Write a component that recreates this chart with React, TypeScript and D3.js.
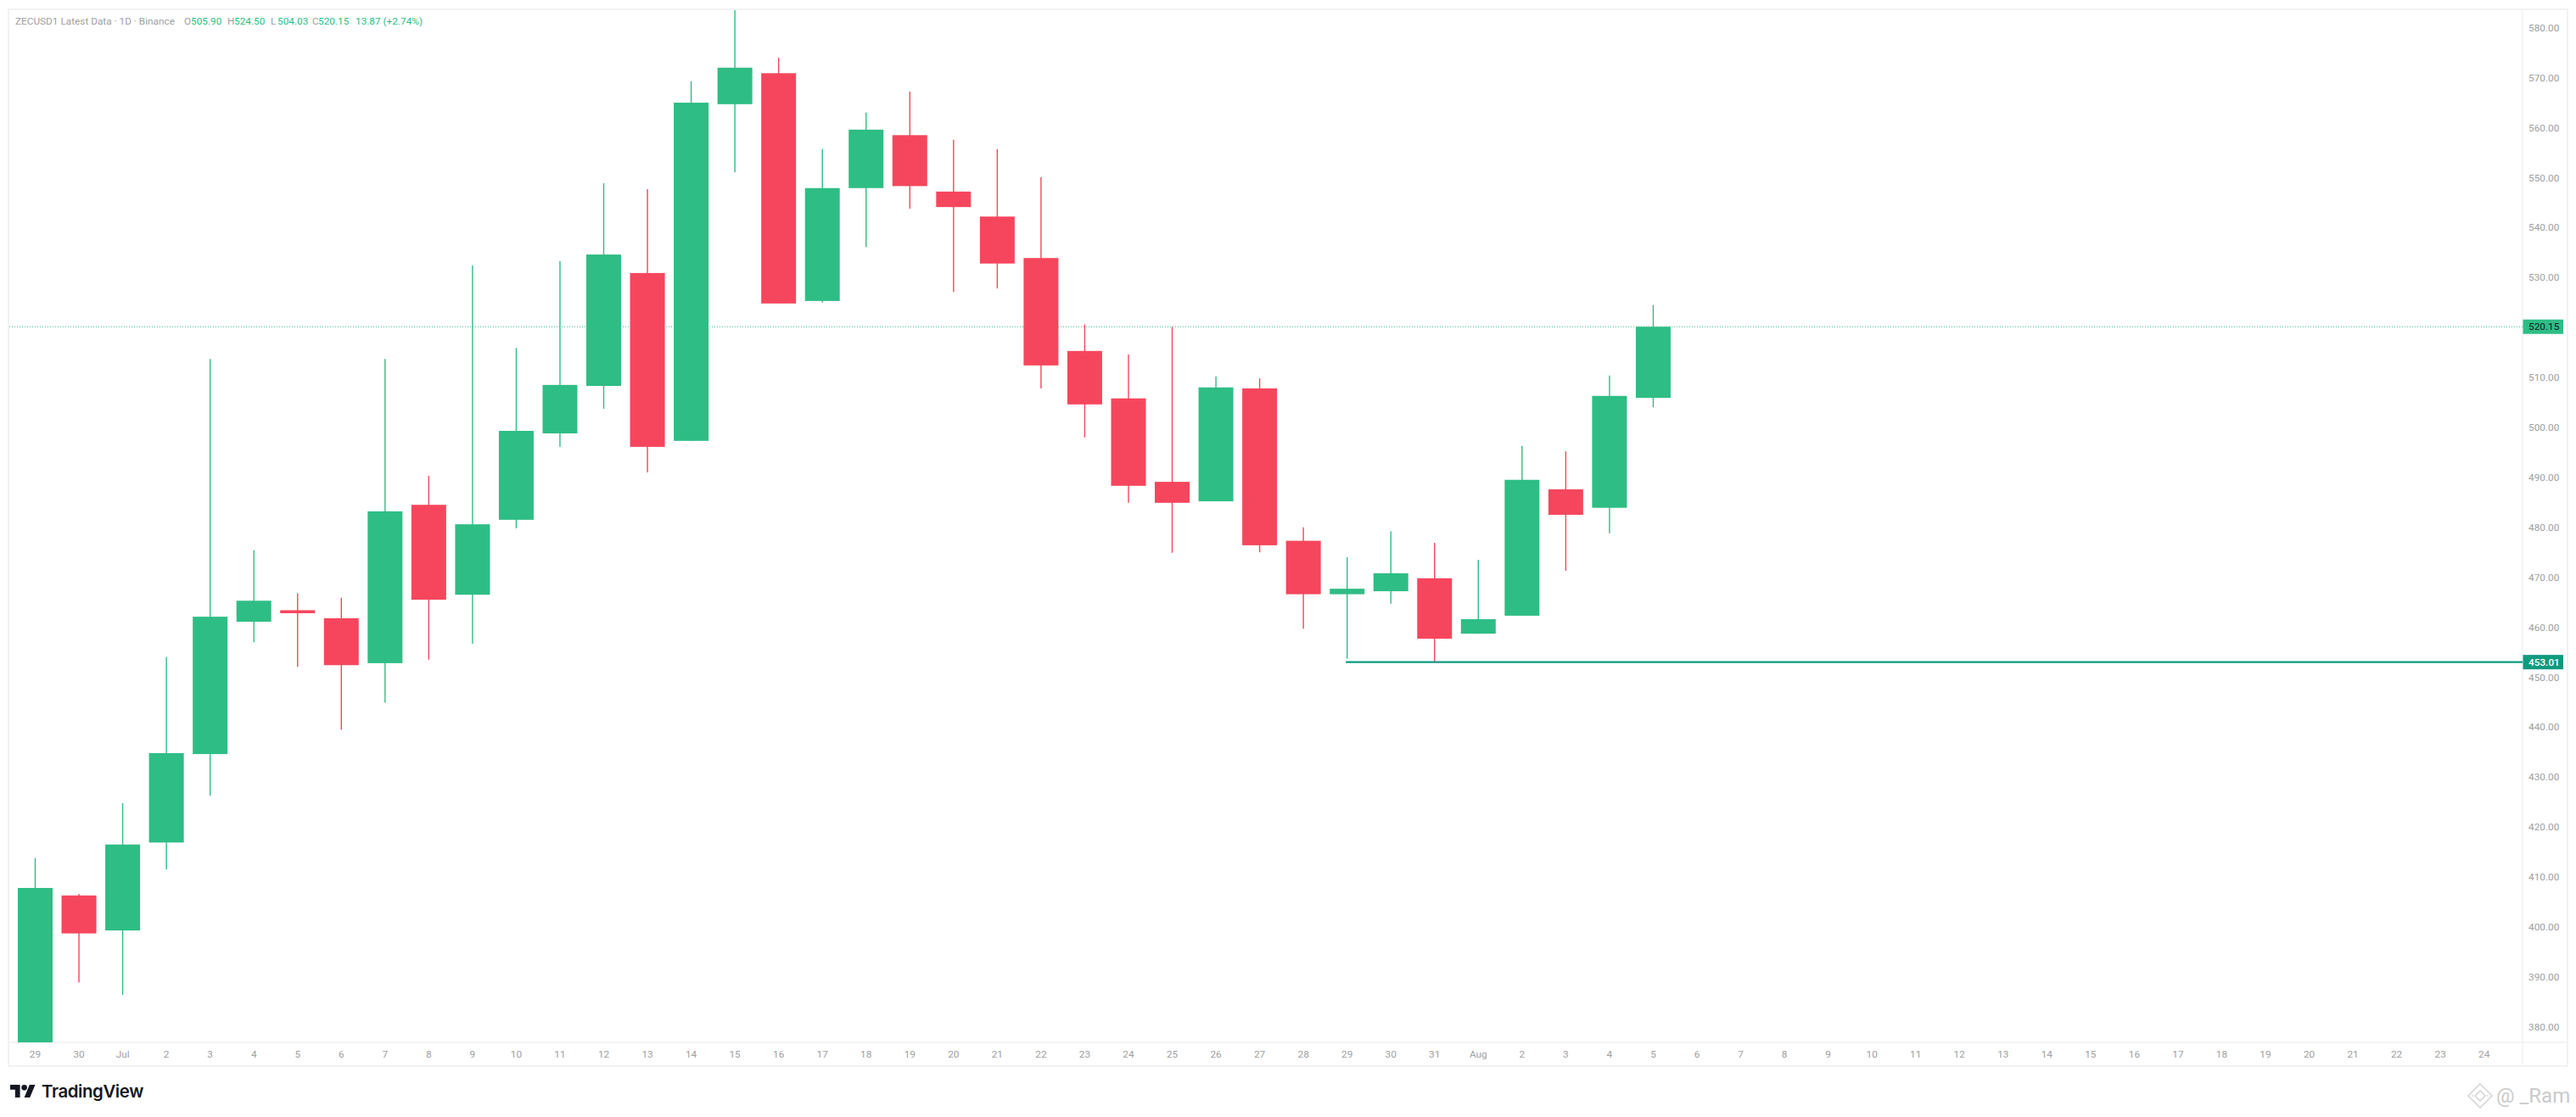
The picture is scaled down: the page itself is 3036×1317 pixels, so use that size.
import React from 'react'
import * as d3 from 'd3'

// ZECUSD1 daily candles, Jun 29 -> Aug 5
const opens = [376, 406.3, 399.3, 416.9, 434.6, 461.1, 463.4, 461.8, 452.8, 484.5, 466.5, 481.5, 498.8, 508.3, 530.9, 497.3, 564.7, 570.9, 525.3, 547.9, 558.5, 547.2, 542.2, 533.9, 515.3, 505.8, 489.1, 485.2, 507.8, 477.3, 466.6, 467.2, 469.8, 458.7, 462.3, 487.6, 483.9, 505.9]
const highs = [413.8, 406.6, 424.8, 454, 513.7, 475.4, 466.8, 465.9, 513.7, 490.3, 532.4, 515.9, 533.3, 548.9, 547.7, 569.3, 584, 574, 555.7, 563, 567.2, 557.6, 555.7, 550.1, 520.6, 514.6, 520.1, 510.2, 509.8, 480, 474, 479.2, 476.9, 473.5, 496.3, 495.2, 510.4, 524.5]
const lows = [372, 388.9, 386.4, 411.5, 426.3, 457, 452.1, 439.5, 444.9, 453.5, 456.7, 479.8, 496.1, 503.7, 491, 497.3, 551.1, 524.8, 525, 536.1, 543.8, 527.1, 527.8, 507.8, 498, 484.9, 474.9, 485.2, 475, 459.7, 453.7, 464.7, 453, 458.7, 462.3, 471.3, 478.8, 504.03]
const closes = [407.8, 398.7, 416.5, 434.8, 462.1, 465.3, 462.8, 452.4, 483.2, 465.5, 480.6, 499.3, 508.5, 534.6, 496.1, 565, 572, 524.8, 547.9, 559.6, 548.3, 544.1, 532.8, 512.4, 504.6, 488.3, 484.9, 508, 476.4, 466.6, 467.7, 470.8, 457.7, 461.6, 489.5, 482.5, 506.3, 520.15]

const timeLabels = ['29', '30', 'Jul', '2', '3', '4', '5', '6', '7', '8', '9', '10', '11', '12', '13', '14', '15', '16', '17', '18', '19', '20', '21', '22', '23', '24', '25', '26', '27', '28', '29', '30', '31', 'Aug', '2', '3', '4', '5', '6', '7', '8', '9', '10', '11', '12', '13', '14', '15', '16', '17', '18', '19', '20', '21', '22', '23', '24']
const priceTicks = d3.range(380, 590, 10)

const lastPrice = 520.15
const supportPrice = 453.01
const supportStartIndex = 30

const legendTitle = 'ZECUSD1 Latest Data · 1D · Binance'
const legendLetters = ['O', 'H', 'L', 'C']
const legendValues = ['505.90', '524.50', '504.03', '520.15']
const legendChange = '13.87 (+2.74%)'

const green = '#2ebd85'
const red = '#f6465d'
const supportColor = '#0c9b7f'
const textGray = '#a0a0a0'
const borderGray = '#f1f2f5'
const font = 'Roboto, sans-serif'

const W = 3036
const H = 1317
const left = 11
const top = 12
const plotRight = 2973
const plotBottom = 1229
const axisBottom = 1257
const outerRight = 3026

const App = () => {
  const x = d3.scaleLinear([0, 56], [41.5, 2927.7])
  const y = d3.scaleLinear([380, 580], [1210.7, 32.7])
  const fmt = d3.format('.2f')
  const bodyWidth = 41

  const legendX = [217, 268, 319, 368]
  const legendValueX = [225, 276, 327, 375]

  return (
    <svg
      width={W}
      height={H}
      viewBox={`0 0 ${W} ${H}`}
      style={{ position: 'fixed', left: 0, top: 0, background: '#fff', fontFamily: font }}
    >
      <defs>
        <clipPath id="plot">
          <rect x={left} y={top} width={plotRight - left} height={plotBottom - top} />
        </clipPath>
      </defs>

      {/* frame */}
      <rect x={10} y={11} width={outerRight - 10} height={axisBottom - 11} fill="none" stroke={borderGray} strokeWidth={2} />
      <line x1={plotRight} x2={plotRight} y1={11} y2={axisBottom} stroke={borderGray} strokeWidth={1.5} />
      <line x1={10} x2={outerRight} y1={plotBottom} y2={plotBottom} stroke={borderGray} strokeWidth={1.5} />

      {/* last price line sits behind the candles */}
      <line x1={left} x2={plotRight} y1={y(lastPrice)} y2={y(lastPrice)} stroke={green} strokeWidth={1} strokeDasharray="1 2" />

      <g clipPath="url(#plot)">
        {closes.map((c, i) => {
          const o = opens[i]
          const col = c >= o ? green : red
          const yTop = y(Math.max(o, c))
          const yBot = y(Math.min(o, c))
          return (
            <g key={i}>
              <line x1={x(i)} x2={x(i)} y1={y(highs[i])} y2={y(lows[i])} stroke={col} strokeWidth={1.4} />
              <rect x={x(i) - bodyWidth / 2} y={yTop} width={bodyWidth} height={Math.max(yBot - yTop, 1)} fill={col} />
            </g>
          )
        })}
        <line x1={x(supportStartIndex) - 1.5} x2={plotRight} y1={y(supportPrice)} y2={y(supportPrice)} stroke={supportColor} strokeWidth={2.2} />
      </g>

      {/* price axis */}
      {priceTicks.map((t) => (
        <text key={t} x={2980} y={y(t)} dy="0.35em" fontSize={11.8} fill={textGray}>
          {fmt(t)}
        </text>
      ))}
      <rect x={2973.5} y={y(lastPrice) - 8.5} width={47.5} height={17} fill={green} />
      <text x={2980} y={y(lastPrice)} dy="0.35em" fontSize={11.8} fill="#131722">
        {fmt(lastPrice)}
      </text>
      <rect x={2973.5} y={y(supportPrice) - 8.5} width={47.5} height={17} fill={supportColor} />
      <text x={2980} y={y(supportPrice)} dy="0.35em" fontSize={11.8} fontWeight={500} fill="#fff">
        {fmt(supportPrice)}
      </text>

      {/* time axis */}
      {timeLabels.map((d, i) => (
        <text key={i} x={x(i)} y={1243} dy="0.35em" textAnchor="middle" fontSize={11.8} fill={textGray}>
          {d}
        </text>
      ))}

      {/* legend */}
      <text x={18} y={25} dy="0.35em" fontSize={11.8} fill={textGray}>
        {legendTitle}
      </text>
      {legendLetters.map((l, i) => (
        <g key={l} fontSize={11.8}>
          <text x={legendX[i]} y={25} dy="0.35em" fill={textGray}>{l}</text>
          <text x={legendValueX[i]} y={25} dy="0.35em" fill={green}>{legendValues[i]}</text>
        </g>
      ))}
      <text x={419} y={25} dy="0.35em" fontSize={11.8} fill={green}>
        {legendChange}
      </text>

      {/* TradingView logo */}
      <g transform="translate(12,1275.7) scale(0.83)" fill="#131722">
        <path d="M14 22H7V11H0V4h14v18zM28 22h-8l7.5-18h8L28 22z" />
        <circle cx={20} cy={8} r={4} />
      </g>
      <text x={49} y={1287} dy="0.35em" fontSize={20.4} fontWeight={600} fontFamily="Inter, sans-serif" fill="#131722" letterSpacing={-0.4}>
        TradingView
      </text>

      {/* watermark */}
      <g fill="none" stroke="#d6d6d6" strokeWidth={1.6}>
        <path d="M2923 1278l14 14-14 14-14-14z" />
        <path d="M2917 1292l6-6 6 6-6 6z" />
        <path d="M2913 1292h2M2931 1292h2" />
      </g>
      <text x={2942} y={1292} dy="0.35em" fontSize={24} fill="#cacaca">
        @ _Ram
      </text>
    </svg>
  )
}

export default App
